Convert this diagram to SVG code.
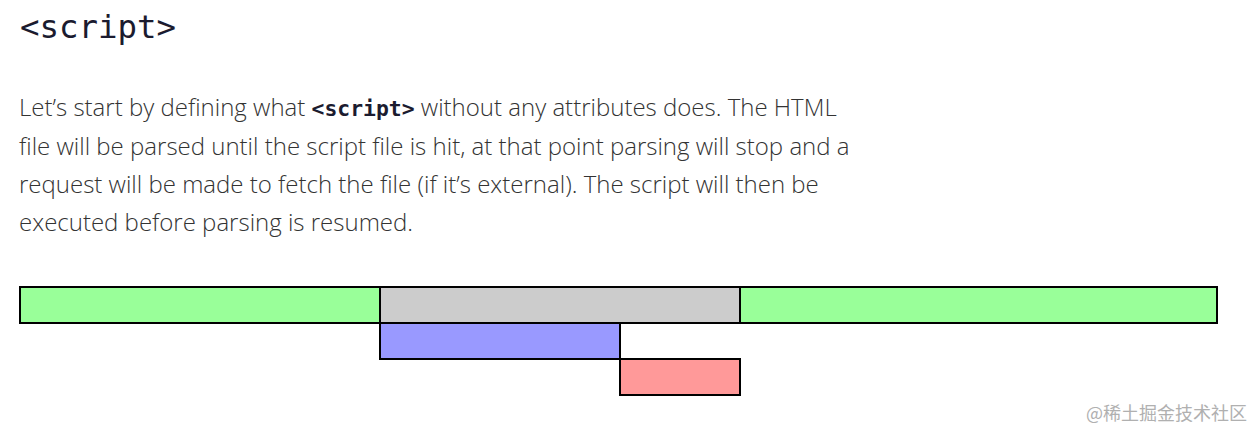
<svg xmlns="http://www.w3.org/2000/svg" width="1254" height="431" viewBox="0 0 1254 431">
  <style>
    .title { font-family: "DejaVu Sans Mono", "Liberation Mono", monospace; font-size: 32.4px; fill: #1b1b2f; }
    .para { font-family: "Open Sans", "Liberation Sans", sans-serif; font-weight: 300; font-size: 24px; fill: #333333; }
    .code { font-family: "DejaVu Sans Mono", "Liberation Mono", monospace; font-weight: bold; font-size: 21.4px; fill: #1b1b2f; }
    .bar { stroke: #000; stroke-width: 2; }
    .parse { fill: #99ff99; }
    .pause { fill: #cccccc; }
    .fetch { fill: #9999ff; }
    .exec { fill: #ff9999; }
    .wm { font-family: "Noto Sans CJK SC", "Liberation Sans", sans-serif; font-size: 18px; fill: #b0b0b0; }
  </style>
  <rect width="1254" height="431" fill="#ffffff"/>
  <text class="title" x="20" y="38">&lt;script&gt;</text>
  <g id="paragraph">
    <text class="para" x="19" y="116">Let’s start by defining what <tspan class="code">&lt;script&gt;</tspan> without any attributes does. The HTML</text>
    <text class="para" x="19" y="155">file will be parsed until the script file is hit, at that point parsing will stop and a</text>
    <text class="para" x="19" y="193">request will be made to fetch the file (if it’s external). The script will then be</text>
    <text class="para" x="19" y="231">executed before parsing is resumed.</text>
  </g>
  <g id="parse-html-1"><rect class="bar parse" x="20" y="287" width="360" height="36"/></g>
  <g id="parse-paused"><rect class="bar pause" x="380" y="287" width="360" height="36"/></g>
  <g id="parse-html-2"><rect class="bar parse" x="740" y="287" width="477" height="36"/></g>
  <g id="script-fetch"><rect class="bar fetch" x="380" y="323" width="240" height="36"/></g>
  <g id="script-exec"><rect class="bar exec" x="620" y="359" width="120" height="36"/></g>
  <g id="connectors"></g>
  <text class="wm" x="1247" y="420" text-anchor="end">@稀土掘金技术社区</text>
</svg>
